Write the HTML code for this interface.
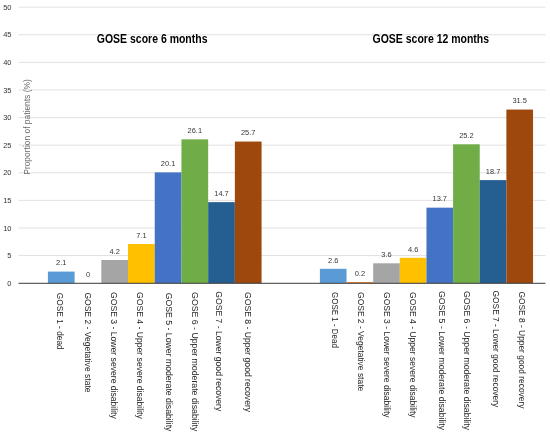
<!DOCTYPE html>
<html lang="en"><head><meta charset="utf-8"><title>GOSE score</title>
<style>html,body{margin:0;padding:0;background:#fff}body{width:550px;height:436px;overflow:hidden}svg{display:block}text{font-family:"Liberation Sans",sans-serif}</style></head><body>
<svg width="550" height="436" viewBox="0 0 550 436">
<rect width="550" height="436" fill="#fff"/>
<g stroke="#D9D9D9" stroke-width="0.8">
<line x1="18.5" x2="545.4" y1="255.55" y2="255.55"/>
<line x1="18.5" x2="545.4" y1="227.95" y2="227.95"/>
<line x1="18.5" x2="545.4" y1="200.35" y2="200.35"/>
<line x1="18.5" x2="545.4" y1="172.75" y2="172.75"/>
<line x1="18.5" x2="545.4" y1="145.15" y2="145.15"/>
<line x1="18.5" x2="545.4" y1="117.55" y2="117.55"/>
<line x1="18.5" x2="545.4" y1="89.95" y2="89.95"/>
<line x1="18.5" x2="545.4" y1="62.35" y2="62.35"/>
<line x1="18.5" x2="545.4" y1="34.75" y2="34.75"/>
<line x1="18.5" x2="545.4" y1="7.15" y2="7.15"/>
</g>
<g font-size="7.5" fill="#333" text-anchor="end">
<text x="11.5" y="285.80">0</text>
<text x="11.5" y="258.20">5</text>
<text x="11.5" y="230.60">10</text>
<text x="11.5" y="203.00">15</text>
<text x="11.5" y="175.40">20</text>
<text x="11.5" y="147.80">25</text>
<text x="11.5" y="120.20">30</text>
<text x="11.5" y="92.60">35</text>
<text x="11.5" y="65.00">40</text>
<text x="11.5" y="37.40">45</text>
<text x="11.5" y="9.80">50</text>
</g>
<text transform="translate(30.3,127) rotate(-90)" font-size="8.4" fill="#6a6a6a" text-anchor="middle" textLength="95.5" lengthAdjust="spacingAndGlyphs">Proportion of patients (%)</text>
<g font-size="12.6" font-weight="bold" fill="#000">
<text x="96.8" y="43.2" textLength="110.7" lengthAdjust="spacingAndGlyphs">GOSE score 6 months</text>
<text x="372.5" y="43.2" textLength="116.6" lengthAdjust="spacingAndGlyphs">GOSE score 12 months</text>
</g>
<rect x="47.90" y="271.58" width="26.71" height="11.57" fill="#5B9BD5"/>
<rect x="101.32" y="260.01" width="26.71" height="23.14" fill="#A5A5A5"/>
<rect x="128.03" y="244.03" width="26.71" height="39.12" fill="#FFC000"/>
<rect x="154.74" y="172.40" width="26.71" height="110.75" fill="#4472C4"/>
<rect x="181.45" y="139.34" width="26.71" height="143.81" fill="#70AD47"/>
<rect x="208.16" y="202.15" width="26.71" height="81.00" fill="#255E91"/>
<rect x="234.87" y="141.54" width="26.71" height="141.61" fill="#9E480E"/>
<rect x="319.90" y="268.82" width="26.64" height="14.33" fill="#5B9BD5"/>
<rect x="346.54" y="282.05" width="26.64" height="1.10" fill="#ED7D31"/>
<rect x="373.18" y="263.31" width="26.64" height="19.84" fill="#A5A5A5"/>
<rect x="399.82" y="257.80" width="26.64" height="25.35" fill="#FFC000"/>
<rect x="426.46" y="207.66" width="26.64" height="75.49" fill="#4472C4"/>
<rect x="453.10" y="144.30" width="26.64" height="138.85" fill="#70AD47"/>
<rect x="479.74" y="180.11" width="26.64" height="103.04" fill="#255E91"/>
<rect x="506.38" y="109.58" width="26.64" height="173.56" fill="#9E480E"/>
<line x1="18.5" x2="545.4" y1="283.30" y2="283.30" stroke="#3a3a3a" stroke-width="1"/>
<g font-size="7.45" fill="#383838" text-anchor="middle">
<text x="61.25" y="265.28">2.1</text>
<text x="87.97" y="276.85">0</text>
<text x="114.67" y="253.71">4.2</text>
<text x="141.38" y="237.73">7.1</text>
<text x="168.09" y="166.10">20.1</text>
<text x="194.81" y="133.04">26.1</text>
<text x="221.51" y="195.85">14.7</text>
<text x="248.22" y="135.24">25.7</text>
<text x="333.22" y="262.52">2.6</text>
<text x="359.86" y="275.75">0.2</text>
<text x="386.50" y="257.01">3.6</text>
<text x="413.14" y="251.50">4.6</text>
<text x="439.78" y="201.36">13.7</text>
<text x="466.42" y="138.00">25.2</text>
<text x="493.06" y="173.81">18.7</text>
<text x="519.70" y="103.28">31.5</text>
</g>
<g font-size="9.5" fill="#262626">
<text transform="translate(57.1,292.8) rotate(90)" textLength="56.9" lengthAdjust="spacingAndGlyphs">GOSE 1 - dead</text>
<text transform="translate(84.6,292.4) rotate(90)" textLength="100.1" lengthAdjust="spacingAndGlyphs">GOSE 2 - Vegetative state</text>
<text transform="translate(110.6,292.1) rotate(90)" textLength="126.7" lengthAdjust="spacingAndGlyphs">GOSE 3 - Lower severe disability</text>
<text transform="translate(137.2,292.1) rotate(90)" textLength="126.7" lengthAdjust="spacingAndGlyphs">GOSE 4 - Upper severe disability</text>
<text transform="translate(165.8,292.8) rotate(90)" textLength="138.6" lengthAdjust="spacingAndGlyphs">GOSE 5 - Lower moderate disability</text>
<text transform="translate(191.6,292.1) rotate(90)" textLength="139.3" lengthAdjust="spacingAndGlyphs">GOSE 6 - Upper moderate disability</text>
<text transform="translate(216.2,291.3) rotate(90)" textLength="120.0" lengthAdjust="spacingAndGlyphs">GOSE 7 - Lower good recovery</text>
<text transform="translate(245.2,292.1) rotate(90)" textLength="120.0" lengthAdjust="spacingAndGlyphs">GOSE 8 - Upper good recovery</text>
<text transform="translate(332.4,292.1) rotate(90)" textLength="55.8" lengthAdjust="spacingAndGlyphs">GOSE 1 - Dead</text>
<text transform="translate(358.1,292.1) rotate(90)" textLength="99.1" lengthAdjust="spacingAndGlyphs">GOSE 2 - Vegetative state</text>
<text transform="translate(383.6,292.1) rotate(90)" textLength="125.5" lengthAdjust="spacingAndGlyphs">GOSE 3 - Lower severe disability</text>
<text transform="translate(410.0,292.1) rotate(90)" textLength="125.5" lengthAdjust="spacingAndGlyphs">GOSE 4 - Upper severe disability</text>
<text transform="translate(439.3,291.0) rotate(90)" textLength="139.1" lengthAdjust="spacingAndGlyphs">GOSE 5 - Lower moderate disability</text>
<text transform="translate(464.2,291.0) rotate(90)" textLength="139.1" lengthAdjust="spacingAndGlyphs">GOSE 6 - Upper moderate disability</text>
<text transform="translate(492.8,290.6) rotate(90)" textLength="116.5" lengthAdjust="spacingAndGlyphs">GOSE 7 - Lower good recovery</text>
<text transform="translate(519.4,291.4) rotate(90)" textLength="117.0" lengthAdjust="spacingAndGlyphs">GOSE 8 - Upper good recovery</text>
</g>
</svg></body></html>
